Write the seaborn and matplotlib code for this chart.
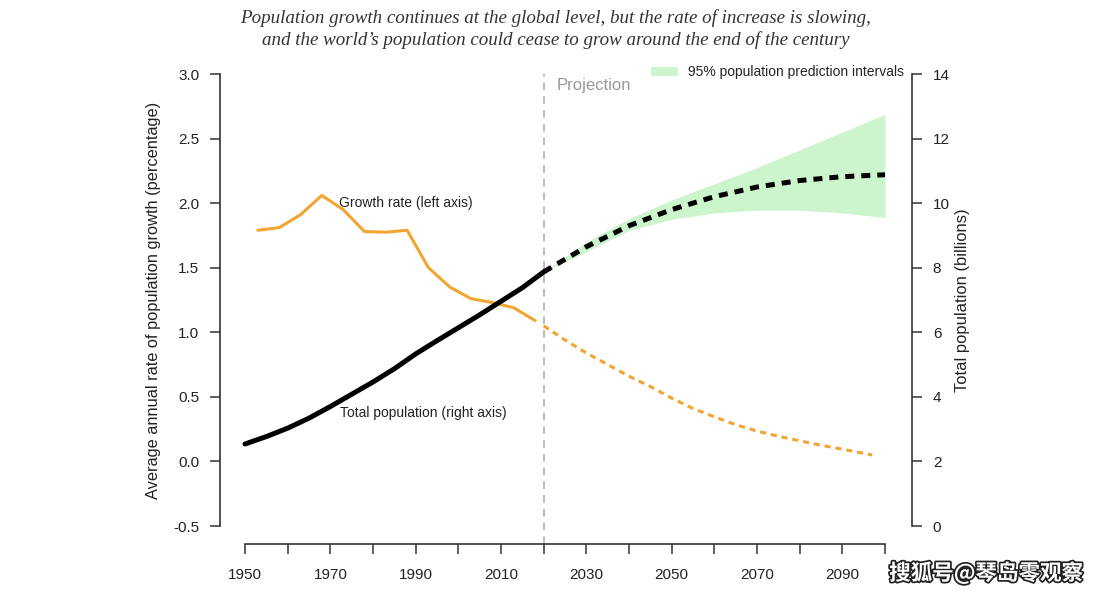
import numpy as np
import pandas as pd
import seaborn as sns
import matplotlib.pyplot as plt
from matplotlib.patches import Patch
import matplotlib.patheffects as pe

# growth rate, 5-year periods (left axis)
growth_years = [1953, 1958, 1963, 1968, 1973, 1978, 1983, 1988, 1993, 1998, 2003, 2008, 2013, 2018]
growth_rate = [1.79, 1.81, 1.91, 2.06, 1.95, 1.78, 1.775, 1.79, 1.50, 1.35, 1.26, 1.23, 1.19, 1.09]
growth_proj_years = [2020, 2025, 2030, 2035, 2040, 2045, 2050, 2055, 2060, 2065, 2070, 2075, 2080, 2085, 2090, 2097]
growth_proj = [1.05, 0.94, 0.84, 0.75, 0.66, 0.58, 0.49, 0.41, 0.345, 0.285, 0.235, 0.195, 0.16, 0.125, 0.095, 0.05]

# total population, billions (right axis)
pop_years = [1950, 1955, 1960, 1965, 1970, 1975, 1980, 1985, 1990, 1995, 2000, 2005, 2010, 2015, 2020]
pop = [2.54, 2.77, 3.03, 3.34, 3.70, 4.08, 4.46, 4.87, 5.33, 5.74, 6.14, 6.54, 6.96, 7.38, 7.87]
pop_proj_years = [2020, 2030, 2040, 2050, 2060, 2070, 2080, 2090, 2100]
pop_proj = [7.87, 8.65, 9.30, 9.80, 10.20, 10.50, 10.70, 10.82, 10.88]
pop_upper = [7.87, 8.80, 9.52, 10.10, 10.60, 11.10, 11.65, 12.20, 12.75]
pop_lower = [7.87, 8.50, 9.15, 9.50, 9.70, 9.78, 9.78, 9.70, 9.55]

orange = '#F2A531'
band_green = '#CDF5CD'
spine_col = '#333333'

sns.set_style('ticks')
plt.rcParams['font.family'] = ['Liberation Sans', 'DejaVu Sans']

growth_df = pd.DataFrame({'year': growth_years, 'rate': growth_rate})
growth_proj_df = pd.DataFrame({'year': growth_proj_years, 'rate': growth_proj})
pop_df = pd.DataFrame({'year': pop_years, 'pop': pop})
pop_proj_df = pd.DataFrame({'year': pop_proj_years, 'pop': pop_proj})

fig = plt.figure(figsize=(11.12, 5.97), dpi=100)
ax = fig.add_axes([220 / 1112, 53 / 597, 692 / 1112, 470 / 597])
ax2 = ax.twinx()

# left axis: growth rate
sns.lineplot(data=growth_df, x='year', y='rate', ax=ax, color=orange, lw=2.2)
sns.lineplot(data=growth_proj_df, x='year', y='rate', ax=ax, color=orange, lw=2.2,
             linestyle=(0, (2.0, 1.6)))

# right axis: population + prediction interval
ax2.fill_between(pop_proj_years, pop_lower, pop_upper, color=band_green, lw=0, zorder=1)
sns.lineplot(data=pop_df, x='year', y='pop', ax=ax2, color='black', lw=3.6, zorder=3)
sns.lineplot(data=pop_proj_df, x='year', y='pop', ax=ax2, color='black', lw=3.6,
             linestyle=(0, (1.8, 1.4)), zorder=3)

ax.axvline(2020, color='#AAAAAA', lw=1.1, ls=(0, (5, 4)), zorder=0)

xlo = 1950 - 25 / (640 / 150)
xhi = 2100 + 27 / (640 / 150)
ax.set_xlim(xlo, xhi)
ax.set_ylim(-0.5 - 18 / (452 / 3.5), 3.0)
ax2.set_ylim(0 - 18 / (452 / 14), 14)

ax.set_xticks(np.arange(1950, 2101, 10))
ax.set_xticklabels([str(y) if y % 20 == 10 else '' for y in range(1950, 2101, 10)])
ax.set_yticks(np.arange(-0.5, 3.01, 0.5))
ax.set_yticklabels([f'{v:.1f}' for v in np.arange(-0.5, 3.01, 0.5)])
ax2.set_yticks(np.arange(0, 15, 2))

for a in (ax, ax2):
    a.set_xlabel('')
    a.spines['top'].set_visible(False)
    for s in a.spines.values():
        s.set_color(spine_col)
        s.set_linewidth(1.2)
    a.tick_params(colors=spine_col, labelcolor='#222222', labelsize=11, length=7, width=1.1)
    a.patch.set_visible(False)

ax.spines['right'].set_visible(False)
ax2.spines['left'].set_visible(False)
ax2.spines['bottom'].set_visible(False)
ax.spines['left'].set_bounds(-0.5, 3.0)
ax.spines['bottom'].set_bounds(1950, 2100)
ax2.spines['right'].set_bounds(0, 14)
ax.tick_params(axis='x', pad=10)
ax.tick_params(axis='y', pad=8)
ax2.tick_params(axis='y', pad=8)

ycenter = (18 / 470 + 1) / 2
ax.set_ylabel('Average annual rate of population growth (percentage)', fontsize=11.8, color='#222222')
ax.yaxis.set_label_coords(-0.085, ycenter)
ax2.set_ylabel('Total population (billions)', fontsize=11.9, color='#222222')
ax2.yaxis.set_label_coords(1.062, ycenter)

ax.text(1972, 2.0, 'Growth rate (left axis)', fontsize=10, color='#222222', va='center')
ax.text(1972.3, 0.375, 'Total population (right axis)', fontsize=10, color='#222222', va='center')
ax.text(2023, 2.91, 'Projection', fontsize=12, color='#999999', va='center')

fig.legend(handles=[Patch(facecolor=band_green, edgecolor='none')],
           labels=['95% population prediction intervals'],
           loc='center right', bbox_to_anchor=(904 / 1112, 1 - 72 / 597),
           frameon=False, fontsize=10, handlelength=2.0, handleheight=0.6,
           handletextpad=0.7, borderpad=0, borderaxespad=0)

fig.text(0.5, 1 - 29 / 597,
         'Population growth continues at the global level, but the rate of increase is slowing,\n'
         "and the world\u2019s population could cease to grow around the end of the century",
         ha='center', va='center', fontsize=13.7, style='italic', family='Liberation Serif',
         color='#333333', linespacing=1.3)

fig.text(986 / 1112, 1 - 573 / 597, '搜狐号@琴岛零观察', ha='center', va='center',
         fontsize=15.5, color='white', fontweight='bold',
         family=['Noto Sans CJK SC', 'DejaVu Sans'],
         path_effects=[pe.withStroke(linewidth=2.5, foreground='#222222')])

fig.savefig('out.png', dpi=100, facecolor='white')
